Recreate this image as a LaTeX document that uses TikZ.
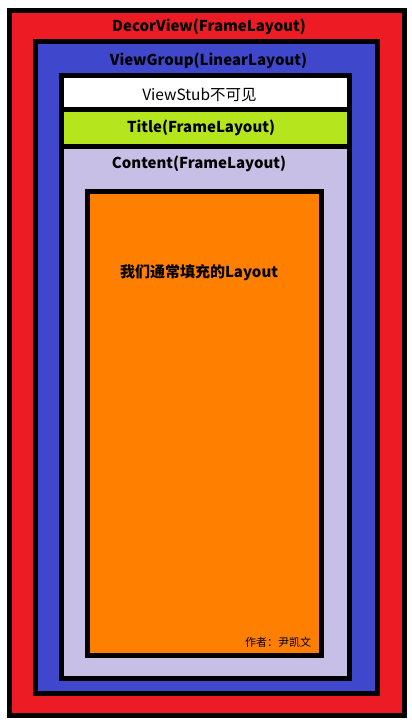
\documentclass[tikz,border=0pt]{standalone}
\usepackage{fontspec}
\setmainfont{Noto Sans CJK SC}
\definecolor{decred}{HTML}{ED1C24}
\definecolor{vgblue}{HTML}{3F48CC}
\definecolor{lav}{HTML}{C8BFE7}
\definecolor{tgreen}{HTML}{B5E61D}
\definecolor{orng}{HTML}{FF7F00}
\begin{document}
\begin{tikzpicture}[x=1pt,y=-1pt,
  box/.style={draw=black,line width=5pt,anchor=north west,inner sep=0pt,outer sep=0pt},
  lbl/.style={inner sep=0pt,outer sep=0pt,font=\fontsize{15}{17}\selectfont\bfseries},
]
\useasboundingbox (0,0) rectangle (412,724);
\fill[white] (0,0) rectangle (412,724);
\node[box,fill=decred,minimum width=395pt,minimum height=705pt] (decor) at (9.5,10.5) {};
\node[box,fill=vgblue,minimum width=342pt,minimum height=652pt] (vg) at (35.5,41.5) {};
\node[box,fill=lav,minimum width=288pt,minimum height=603pt] (content) at (61.5,75.5) {};
\node[box,fill=white,minimum width=288pt,minimum height=34pt] (stub) at (61.5,75.5) {};
\node[box,fill=tgreen,minimum width=288pt,minimum height=37pt] (title) at (61.5,109.5) {};
\node[box,fill=orng,minimum width=234pt,minimum height=464pt] (layout) at (87.5,191.5) {};
\node[lbl] (tdecor) at (209,27) {DecorView(FrameLayout)};
\node[lbl] (tvg) at (208.5,61) {ViewGroup(LinearLayout)};
\node[inner sep=0pt,font=\fontsize{15.5}{17}\selectfont] (tstub) at (199.5,95) {ViewStub不可见};
\node[lbl] (ttitle) at (201,128) {Title(FrameLayout)};
\node[lbl] (tcontent) at (199,164) {Content(FrameLayout)};
\node[lbl] (tlayout) at (199,273) {我们通常填充的Layout};
\node[inner sep=0pt,font=\fontsize{11}{13}\selectfont] (tauthor) at (278,642) {作者：尹凯文};
\end{tikzpicture}
\end{document}
